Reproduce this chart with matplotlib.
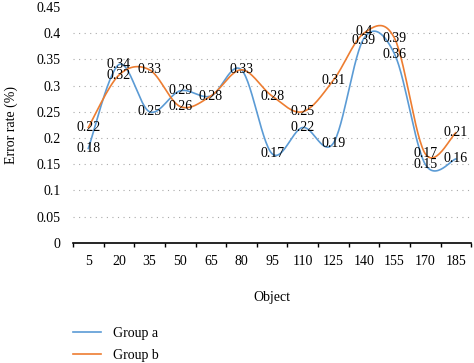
import numpy as np
import matplotlib.pyplot as plt

plt.rcParams['font.family'] = ['Liberation Serif', 'DejaVu Serif']

objects = ['5', '20', '35', '50', '65', '80', '95', '110', '125', '140', '155', '170', '185']
group_a = [0.18, 0.34, 0.25, 0.29, 0.28, 0.33, 0.17, 0.22, 0.19, 0.39, 0.36, 0.15, 0.16]
group_b = [0.22, 0.32, 0.33, 0.26, 0.28, 0.33, 0.28, 0.25, 0.31, 0.40, 0.39, 0.17, 0.21]

blue = '#5b9bd5'
orange = '#ed7d31'


def smooth(x, y, n=30):
    # excel-like smoothed line (catmull-rom as bezier segments)
    x = np.asarray(x, float)
    y = np.asarray(y, float)
    px = np.concatenate([[x[0]], x, [x[-1]]])
    py = np.concatenate([[y[0]], y, [y[-1]]])
    xs, ys = [], []
    t = np.linspace(0, 1, n)
    for i in range(1, len(px) - 2):
        p0 = np.array([px[i], py[i]])
        p3 = np.array([px[i + 1], py[i + 1]])
        c1 = p0 + (np.array([px[i + 1], py[i + 1]]) - np.array([px[i - 1], py[i - 1]])) / 6
        c2 = p3 - (np.array([px[i + 2], py[i + 2]]) - np.array([px[i], py[i]])) / 6
        pts = ((1 - t) ** 3)[:, None] * p0 + (3 * (1 - t) ** 2 * t)[:, None] * c1 \
            + (3 * (1 - t) * t ** 2)[:, None] * c2 + (t ** 3)[:, None] * p3
        xs.extend(pts[:, 0])
        ys.extend(pts[:, 1])
    return xs, ys


fig = plt.figure(figsize=(4.74, 3.63), dpi=100)
ax = fig.add_axes([0.154, 0.331, 0.84, 0.650])

xpos = np.arange(len(objects))
sx, sy = smooth(xpos, group_a)
ax.plot(sx, sy, color=blue, lw=1.2, label='Group a')
sx, sy = smooth(xpos, group_b)
ax.plot(sx, sy, color=orange, lw=1.2, label='Group b')

for i in range(len(objects)):
    a, b = group_a[i], group_b[i]
    if a == b:
        ax.text(xpos[i], a, '%g' % a, ha='center', va='center', fontsize=10)
        continue
    # nudge close labels apart a little
    da = 0.004 if a > b else -0.004
    if abs(a - b) > 0.02:
        da = 0
    ax.text(xpos[i], a + da, '%g' % a, ha='center', va='center', fontsize=10)
    ax.text(xpos[i], b - da, '%g' % b, ha='center', va='center', fontsize=10)

ax.set_xlim(-0.5, len(objects) - 0.5)
ax.set_ylim(0, 0.45)
ax.set_yticks(np.arange(0, 0.451, 0.05))
ax.set_yticklabels(['0', '0.05', '0.1', '0.15', '0.2', '0.25', '0.3', '0.35', '0.4', '0.45'])
ax.set_xticks(xpos)
ax.set_xticklabels(objects)
ax.set_xticks(np.arange(-0.5, len(objects)), minor=True)
ax.tick_params(axis='x', which='major', length=0, labelsize=10, pad=9)
ax.tick_params(axis='x', which='minor', length=3, width=1, direction='out')
ax.tick_params(axis='y', length=0, labelsize=10, pad=9)

ax.grid(axis='y', color='#aaaaaa', linestyle=(0, (1, 4)), lw=0.8)
ax.get_ygridlines()[0].set_visible(False)
ax.get_ygridlines()[-1].set_visible(False)
for s in ['top', 'right', 'left']:
    ax.spines[s].set_visible(False)
ax.spines['bottom'].set_linewidth(1.2)

ax.set_xlabel('Object', fontsize=10, labelpad=16)
ax.set_ylabel('Error rate (%)', fontsize=10, labelpad=13)

fig.legend(loc='center left', bbox_to_anchor=(0.128, 0.052), frameon=False,
           fontsize=10, handlelength=2.0, handletextpad=0.9, labelspacing=0.65)

fig.savefig('out.png', dpi=100)
